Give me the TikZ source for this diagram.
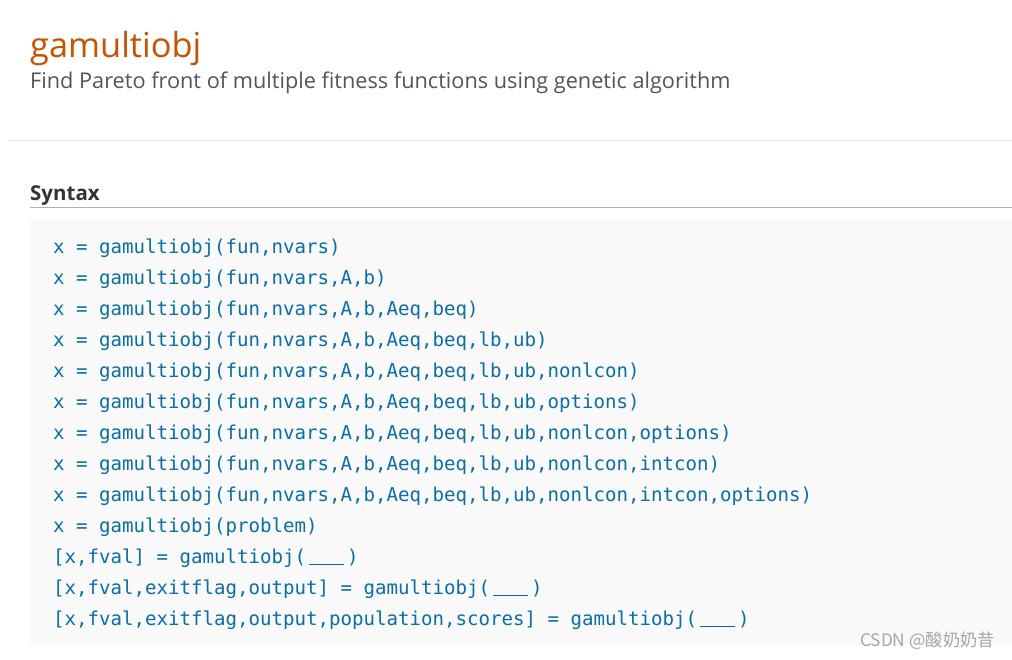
\documentclass[tikz,border=0pt]{standalone}
\usepackage{fontspec}
\setmainfont{Open Sans}
\setmonofont{DejaVu Sans Mono}
\newfontfamily\cjk{Noto Sans CJK SC}
\definecolor{titleorange}{HTML}{C45400}
\definecolor{subgray}{HTML}{555555}
\definecolor{codeblue}{HTML}{0B6EA5}
\definecolor{codebg}{HTML}{F9F9F9}
\newcommand{\blank}{\hspace{3pt}\underline{\hspace{35pt}}\hspace{3pt}}
\tikzset{
  txt/.style={anchor=base west, inner sep=0pt},
  code/.style={txt, text=codeblue, font=\ttfamily\fontsize{19.1}{19}\selectfont},
}
\begin{document}
\begin{tikzpicture}[x=1pt,y=-1pt]
  \useasboundingbox (0,0) rectangle (1012,659);
  \fill[white] (0,0) rectangle (1012,659);
  % header
  \node[txt, text=titleorange, font=\fontsize{34.4}{34}\selectfont] (title) at (30,57) {gamultiobj};
  \node[txt, text=subgray, font=\fontsize{21.7}{21}\selectfont] (sub) at (30,88) {Find Pareto front of multiple fitness functions using genetic algorithm};
  \draw[gray!25] (8,140) -- (1012,140);
  % syntax
  \node[txt, text=black!80, font=\bfseries\fontsize{20.5}{20}\selectfont] (syntax) at (30,200) {Syntax};
  \draw[gray!60] (30,207) -- (1012,207);
  \fill[codebg] (30,220) rectangle (1012,645);
  \foreach \t [count=\i from 0] in {
    {x = gamultiobj(fun,nvars)},
    {x = gamultiobj(fun,nvars,A,b)},
    {x = gamultiobj(fun,nvars,A,b,Aeq,beq)},
    {x = gamultiobj(fun,nvars,A,b,Aeq,beq,lb,ub)},
    {x = gamultiobj(fun,nvars,A,b,Aeq,beq,lb,ub,nonlcon)},
    {x = gamultiobj(fun,nvars,A,b,Aeq,beq,lb,ub,options)},
    {x = gamultiobj(fun,nvars,A,b,Aeq,beq,lb,ub,nonlcon,options)},
    {x = gamultiobj(fun,nvars,A,b,Aeq,beq,lb,ub,nonlcon,intcon)},
    {x = gamultiobj(fun,nvars,A,b,Aeq,beq,lb,ub,nonlcon,intcon,options)},
    {x = gamultiobj(problem)},
    {[x,fval] = gamultiobj(\blank)},
    {[x,fval,exitflag,output] = gamultiobj(\blank)},
    {[x,fval,exitflag,output,population,scores] = gamultiobj(\blank)}}
    \node[code] (line\i) at (53,{253+31*\i}) {\t};
  % watermark
  \node[txt, text=gray!70, font=\cjk\fontsize{17.3}{17}\selectfont] (mark) at (860,646) {CSDN @酸奶奶昔};
\end{tikzpicture}
\end{document}
